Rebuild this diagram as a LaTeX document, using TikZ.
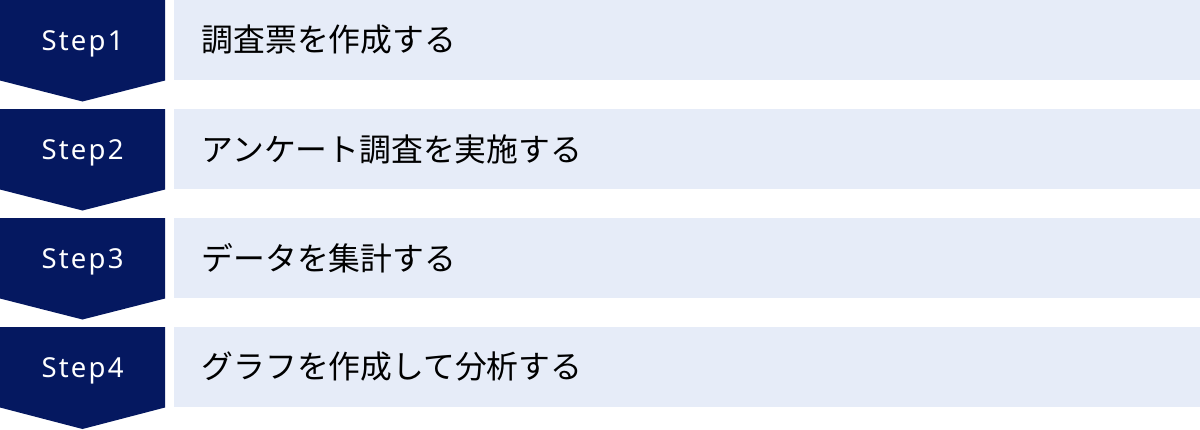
\documentclass[tikz,border=0pt]{standalone}
\usepackage{fontspec}
\setmainfont{Noto Sans CJK JP}
\newfontfamily\stepfont[LetterSpace=8]{Noto Sans}
\usepackage{tikz}
\definecolor{navy}{RGB}{5,24,96}
\definecolor{paleblue}{RGB}{230,236,248}

\begin{document}
\begin{tikzpicture}[x=1pt,y=-1pt,
  badge/.style={fill=navy},
  steplabel/.style={anchor=base,text=white,font=\stepfont\fontsize{27.5}{30}\selectfont,inner sep=0pt},
  taskbox/.style={fill=paleblue},
  tasklabel/.style={anchor=west,text=black,font=\fontsize{31.8}{38}\selectfont,inner sep=0pt}]
\useasboundingbox (0,0) rectangle (1200,429);
% step 1
\fill [badge] (0,0) -- (165,0) -- (165,80.5) -- (82.5,101.5) -- (0,80.5) -- cycle;
\fill [taskbox] (174,0) rectangle (1200,80);
\node [steplabel] (s1) at (82.5,50) {Step1};
\node [tasklabel] (t1) at (201.5,40) {調査票を作成する};
% step 2
\fill [badge] (0,109) -- (165,109) -- (165,189.5) -- (82.5,210.5) -- (0,189.5) -- cycle;
\fill [taskbox] (174,109) rectangle (1200,189);
\node [steplabel] (s2) at (82.5,159) {Step2};
\node [tasklabel] (t2) at (201.5,149) {アンケート調査を実施する};
% step 3
\fill [badge] (0,218) -- (165,218) -- (165,298.5) -- (82.5,319.5) -- (0,298.5) -- cycle;
\fill [taskbox] (174,218) rectangle (1200,298);
\node [steplabel] (s3) at (82.5,268) {Step3};
\node [tasklabel] (t3) at (201.5,258) {データを集計する};
% step 4
\fill [badge] (0,327) -- (165,327) -- (165,407.5) -- (82.5,429) -- (0,407.5) -- cycle;
\fill [taskbox] (174,327) rectangle (1200,407);
\node [steplabel] (s4) at (82.5,377) {Step4};
\node [tasklabel] (t4) at (201.5,367) {グラフを作成して分析する};
\end{tikzpicture}
\end{document}
